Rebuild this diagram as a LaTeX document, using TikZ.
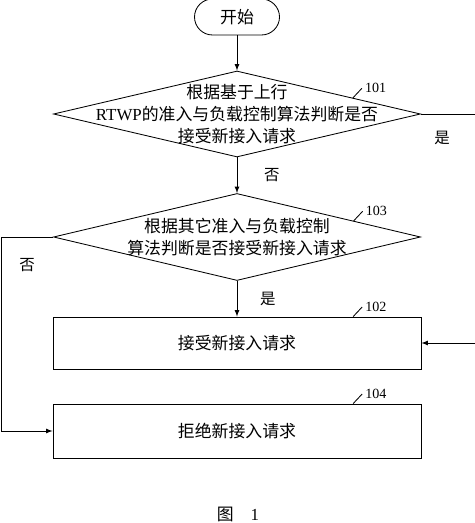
\documentclass[tikz,border=0pt]{standalone}
\usepackage{fontspec}
\setmainfont{Liberation Serif}
\newfontfamily\cjk{Noto Sans CJK SC}
\usetikzlibrary{arrows,shapes.geometric,calc}

\begin{document}
\begin{tikzpicture}[
  line width=0.6pt,
  txt/.style={font=\cjk\fontsize{12}{15.6}\selectfont, align=center},
  decision/.style={draw, diamond, minimum width=9.175cm, minimum height=2.15cm, inner sep=0pt},
  procbox/.style={draw, rectangle, minimum width=9.2cm, minimum height=1.3cm, txt},
  startbox/.style={draw, rectangle, rounded corners=0.45cm, minimum width=2.125cm, minimum height=0.9cm, txt},
  tag/.style={font=\fontsize{10}{12}\selectfont, right, inner sep=2pt},
  yn/.style={font=\cjk\fontsize{11}{13}\selectfont}
]
\useasboundingbox (0,0) rectangle (11.85,13.075);

\node[startbox] (start) at (5.925,12.65) {开始};
\node[decision] (d1) at (5.925,10.225) {};
\node[txt] (t1) at (d1) {根据基于上行\\\textrm{RTWP}的准入与负载控制算法判断是否\\接受新接入请求};
\node[decision, minimum height=2.175cm] (d2) at (5.925,7.15) {};
\node[txt] (t2) at (d2) {根据其它准入与负载控制\\算法判断是否接受新接入请求};
\node[procbox] (b102) at (5.925,4.5) {接受新接入请求};
\node[procbox, minimum height=1.35cm] (b104) at (5.925,2.3) {拒绝新接入请求};

% step numbers
\draw ($(d1.north)!0.63!(d1.east)$) -- ++(0.225,0.24) node[tag] (n101) {101};
\draw ($(d2.north)!0.634!(d2.east)$) -- ++(0.225,0.24) node[tag] (n103) {103};
\draw ($(b102.north west)!0.815!(b102.north east)$) -- ++(0.225,0.24) node[tag] (n102) {102};
\draw ($(b104.north west)!0.815!(b104.north east)$) -- ++(0.225,0.24) node[tag] (n104) {104};

% flow
\coordinate (r) at (12.3,0);
\coordinate (l) at (0.03,0);
\draw [-latex] (start) -- (d1);
\draw [-latex] (d1) -- (d2) node[midway, right=0.55cm, yn] (no1) {否};
\draw [-latex] (d2) -- (b102) node[midway, right=0.45cm, yn] (yes2) {是};
\draw [-latex] (d1.east) -- (d1.east -| r) -- (b102.east -| r) -- (b102.east);
\node[yn] (yes1) at (11.05,9.625) {是};
\draw [-latex] (d2.west) -- (d2.west -| l) -- (b104.west -| l) -- (b104.west);
\node[yn] (no2) at (0.675,6.45) {否};

\node[txt] (cap) at (5.95,0.22) {图\quad\textrm{1}};
\end{tikzpicture}
\end{document}
